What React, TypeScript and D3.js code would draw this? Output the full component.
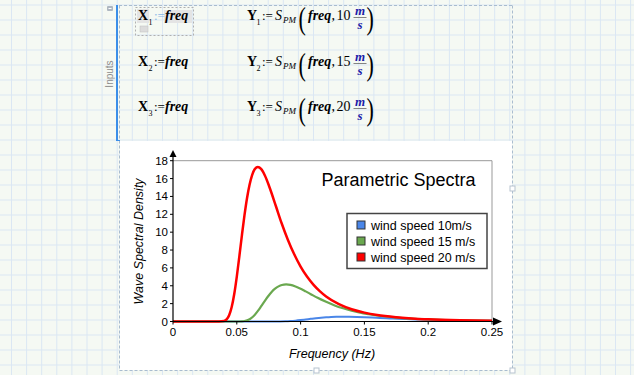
import React from 'react';
import * as d3 from 'd3';

// ---------- data ----------
const xTickValues = [0, 0.05, 0.1, 0.15, 0.2, 0.25];
const xTickLabels = ['0', '0.05', '0.1', '0.15', '0.2', '0.25'];
const yTickValues = [0, 2, 4, 6, 8, 10, 12, 14, 16, 18];
const seriesNames = ['wind speed 10m/s', 'wind speed 15 m/s', 'wind speed 20 m/s'];
const seriesColors = ['#4a86e8', '#6aa84f', '#ff0000'];
const windSpeeds = ['10', '15', '20'];
const rowIndices = ['1', '2', '3'];

// frequency (Hz), spectral density
const speed10: [number, number][] = [
  [0, 0], [0.08, 0], [0.084, 0.007], [0.088, 0.022], [0.092, 0.051], [0.096, 0.096],
  [0.1, 0.157], [0.104, 0.228], [0.108, 0.301], [0.112, 0.37], [0.116, 0.431],
  [0.12, 0.478], [0.124, 0.512], [0.128, 0.532], [0.133, 0.54], [0.138, 0.533],
  [0.144, 0.51], [0.15, 0.477], [0.156, 0.439], [0.162, 0.398], [0.17, 0.345],
  [0.18, 0.286], [0.19, 0.235], [0.2, 0.192], [0.21, 0.157], [0.22, 0.129],
  [0.23, 0.106], [0.24, 0.088], [0.25, 0.074],
];
const speed15: [number, number][] = [
  [0, 0], [0.05, 0], [0.054, 0.02], [0.056, 0.055], [0.0587, 0.17], [0.0613, 0.39],
  [0.064, 0.74], [0.0667, 1.21], [0.0693, 1.75], [0.072, 2.32], [0.0747, 2.85],
  [0.0773, 3.31], [0.08, 3.67], [0.0827, 3.93], [0.0853, 4.09], [0.0887, 4.15],
  [0.092, 4.1], [0.096, 3.92], [0.1, 3.67], [0.104, 3.37], [0.108, 3.06],
  [0.1133, 2.65], [0.12, 2.2], [0.1267, 1.8], [0.1333, 1.48], [0.14, 1.21],
  [0.1467, 0.99], [0.1533, 0.82], [0.16, 0.67], [0.1733, 0.47], [0.1867, 0.33],
  [0.2, 0.24], [0.2133, 0.17], [0.2333, 0.11], [0.25, 0.08],
];
const speed20: [number, number][] = [
  [0, 0], [0.036, 0], [0.04, 0.05], [0.042, 0.23], [0.044, 0.7], [0.046, 1.62],
  [0.048, 3.08], [0.05, 5.03], [0.052, 7.3], [0.054, 9.65], [0.056, 11.87],
  [0.058, 13.8], [0.06, 15.3], [0.062, 16.39], [0.064, 17.04], [0.0665, 17.3],
  [0.069, 17.08], [0.072, 16.34], [0.075, 15.28], [0.078, 14.05], [0.081, 12.76],
  [0.085, 11.05], [0.09, 9.16], [0.095, 7.52], [0.1, 6.15], [0.105, 5.03],
  [0.11, 4.13], [0.115, 3.4], [0.12, 2.8], [0.13, 1.94], [0.14, 1.37],
  [0.15, 0.99], [0.16, 0.72], [0.175, 0.47], [0.19, 0.31], [0.2, 0.24],
  [0.225, 0.135], [0.25, 0.08],
];
const seriesData = [speed10, speed15, speed20];

// ---------- component ----------
const W = 634;
const H = 375;
const SERIF = '"Liberation Serif", "DejaVu Serif", serif';
const SANS = '"Liberation Sans", Arial, sans-serif';

export default function App() {
  const x = d3.scaleLinear().domain([0, 0.25]).range([173, 492]);
  const y = d3.scaleLinear().domain([0, 18]).range([321.5, 160.7]);
  const line = d3
    .line<[number, number]>()
    .x((d) => x(d[0]))
    .y((d) => y(d[1]))
    .curve(d3.curveMonotoneX);

  const vGrid: number[] = [];
  for (let gx = 11.5; gx < W; gx += 15.1) vGrid.push(gx);
  const hGrid: number[] = [];
  for (let gy = 5; gy < H; gy += 15) hGrid.push(gy);

  const rowBase = [20, 66, 111];
  const widths = [2, 2.2, 2.5];

  return (
    <svg
      width={W}
      height={H}
      style={{ position: 'absolute', left: 0, top: 0, display: 'block' }}
    >
      <rect x={0} y={0} width={W} height={H} fill="#f5f9f3" />
      {vGrid.map((gx, i) => (
        <line key={'v' + i} x1={gx} x2={gx} y1={0} y2={H} stroke="#dbe7f3" strokeWidth={1} />
      ))}
      {hGrid.map((gy, i) => (
        <line key={'h' + i} x1={0} x2={W} y1={gy} y2={gy} stroke="#dbe7f3" strokeWidth={1} />
      ))}

      {/* white chart region */}
      <rect x={120} y={141} width={392} height={229} fill="#ffffff" />

      {/* region borders */}
      <g stroke="#a9bccf" strokeWidth={1} strokeDasharray="3,2" fill="none">
        <line x1={119} x2={512.5} y1={5.5} y2={5.5} />
        <line x1={512.5} x2={512.5} y1={5.5} y2={370.5} />
        <line x1={119.5} x2={512.5} y1={370.5} y2={370.5} />
        <line x1={119.5} x2={119.5} y1={5.5} y2={370.5} />
      </g>
      <line x1={117} x2={117} y1={5} y2={141} stroke="#3b8ee8" strokeWidth={2} />
      <line x1={116} x2={120} y1={140.5} y2={140.5} stroke="#3b8ee8" strokeWidth={1} />
      <rect x={107} y={6} width={6} height={5} rx={1} fill="#aeb7c1" />
      <line x1={108.5} x2={111.5} y1={8.5} y2={8.5} stroke="#ffffff" strokeWidth={1} />
      <text
        transform="translate(113,74) rotate(-90)"
        textAnchor="middle"
        fontFamily={SANS}
        fontSize={10}
        fill="#8c8c8c"
      >
        Inputs
      </text>
      {[[510, 186], [510, 368], [314, 368]].map(([hx, hy], i) => (
        <rect key={'hd' + i} x={hx} y={hy} width={5} height={5} fill="#ffffff" stroke="#b7c3cf" strokeWidth={1} />
      ))}

      {/* selected region highlight (row 1) */}
      <rect x={135.5} y={7.5} width={58} height={28} fill="none" stroke="#b0b0b0" strokeDasharray="2,2" />
      <rect x={137} y={9} width={12} height={14} fill="#e4e4e4" />
      <rect x={164} y={10} width={28} height={13} fill="#e4e4e4" />
      <rect x={140} y={26} width={8} height={6} fill="#dcdcdc" stroke="#c0c0c0" strokeWidth={0.5} />

      {/* equations */}
      {rowBase.map((b, i) => (
        <g key={'row' + i} fontFamily={SERIF} fill="#000">
          <text x={138} y={b} fontSize={14} fontWeight="bold">X</text>
          <text x={148.5} y={b + 5} fontSize={8}>{rowIndices[i]}</text>
          <text x={154} y={b} fontSize={13} fill={i === 0 ? '#8ab8e6' : '#000'}>:=</text>
          <text x={165} y={b} fontSize={14} fontWeight="bold" fontStyle="italic">freq</text>

          <text x={247} y={b} fontSize={14} fontWeight="bold">Y</text>
          <text x={256.5} y={b + 5} fontSize={8}>{rowIndices[i]}</text>
          <text x={262} y={b} fontSize={13}>:=</text>
          <text x={275} y={b} fontSize={14} fontStyle="italic">S</text>
          <text x={283} y={b + 3} fontSize={9} fontStyle="italic">PM</text>
          <text transform={`translate(298.5, ${b + 9}) scale(1,1.45)`} fontSize={22}>(</text>
          <text x={308} y={b} fontSize={14} fontWeight="bold" fontStyle="italic">freq</text>
          <text x={331.5} y={b} fontSize={14}>,</text>
          <text x={336.5} y={b} fontSize={14}>{windSpeeds[i]}</text>
          <text x={360} y={b - 5} fontSize={13} fontWeight="bold" fontStyle="italic" fill="#1c1ca8" textAnchor="middle">m</text>
          <line x1={353.5} x2={366.5} y1={b - 2.5} y2={b - 2.5} stroke="#666" strokeWidth={0.8} />
          <text x={360} y={b + 9} fontSize={13} fontWeight="bold" fontStyle="italic" fill="#1c1ca8" textAnchor="middle">s</text>
          <text transform={`translate(366.5, ${b + 9}) scale(1,1.45)`} fontSize={22}>)</text>
        </g>
      ))}

      {/* plot frame */}
      <line x1={x(0)} x2={x(0.25)} y1={y(18)} y2={y(18)} stroke="#999" strokeWidth={1} />
      <line x1={x(0.25)} x2={x(0.25)} y1={y(18)} y2={y(0)} stroke="#999" strokeWidth={1} />

      {/* series */}
      {seriesData.map((d, i) => (
        <path key={'s' + i} d={line(d) || ''} fill="none" stroke={seriesColors[i]} strokeWidth={widths[i]} strokeLinejoin="round" />
      ))}

      {/* axes */}
      <line x1={x(0)} x2={x(0)} y1={y(0)} y2={156} stroke="#000" strokeWidth={1.2} />
      <path d={`M${x(0) - 3.5},157 L${x(0)},150 L${x(0) + 3.5},157 Z`} fill="#000" />
      <line x1={x(0)} x2={494} y1={y(0)} y2={y(0)} stroke="#000" strokeWidth={1.2} />
      <path d={`M493,${y(0) - 4} L502,${y(0)} L493,${y(0) + 4} Z`} fill="#000" />

      {yTickValues.map((v) => (
        <g key={'yt' + v}>
          <line x1={x(0) - 3} x2={x(0)} y1={y(v)} y2={y(v)} stroke="#000" />
          <text x={x(0) - 5} y={y(v) + 4} textAnchor="end" fontFamily={SANS} fontSize={11.5} fill="#000">
            {v}
          </text>
        </g>
      ))}
      {xTickValues.map((v, i) => (
        <g key={'xt' + v}>
          <line x1={x(v)} x2={x(v)} y1={y(0)} y2={y(0) + 3} stroke="#000" />
          <text x={x(v)} y={336} textAnchor="middle" fontFamily={SANS} fontSize={11.5} fill="#000">
            {xTickLabels[i]}
          </text>
        </g>
      ))}

      <text x={332} y={358} textAnchor="middle" fontFamily={SANS} fontSize={12.5} fontStyle="italic" fill="#000">
        Frequency (Hz)
      </text>
      <text
        transform="translate(142.5,241.5) rotate(-90)"
        textAnchor="middle"
        fontFamily={SANS}
        fontSize={12.5}
        fontStyle="italic"
        fill="#000"
      >
        Wave Spectral Density
      </text>

      <text x={321.5} y={185.8} fontFamily={SANS} fontSize={18} fill="#000">
        Parametric Spectra
      </text>

      {/* legend */}
      <rect x={347} y={213.5} width={140} height={55} fill="#ffffff" stroke="#444" strokeWidth={1.5} />
      {seriesNames.map((name, i) => (
        <g key={'lg' + i}>
          <rect x={357} y={221 + i * 16} width={8} height={8} fill={seriesColors[i]} stroke="#333" strokeWidth={1} />
          <text x={371} y={229.5 + i * 16} fontFamily={SANS} fontSize={12.5} fill="#000">
            {name}
          </text>
        </g>
      ))}
    </svg>
  );
}
